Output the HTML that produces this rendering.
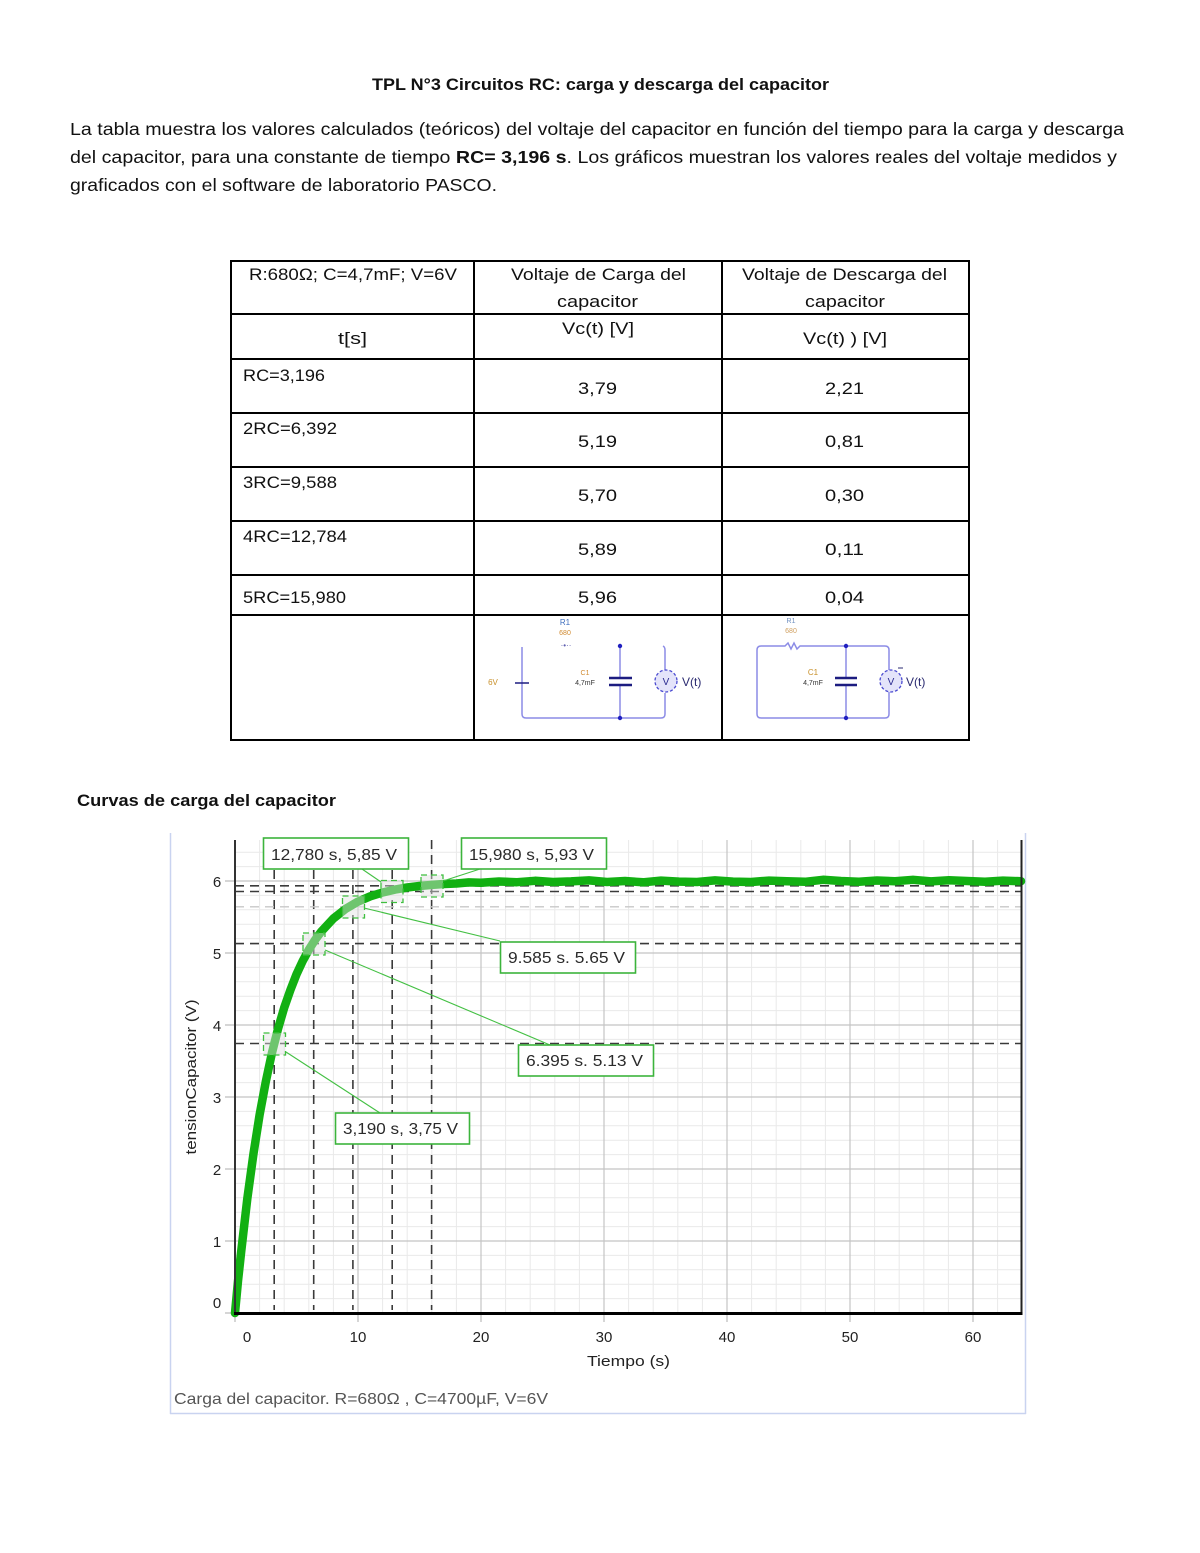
<!DOCTYPE html>
<html>
<head>
<meta charset="utf-8">
<style>
html,body{margin:0;padding:0;background:#fff;}
svg{display:block;}
text{font-family:"Liberation Sans", "DejaVu Sans", sans-serif;}
</style>
</head>
<body>
<svg width="1200" height="1553" viewBox="0 0 1200 1553" xmlns="http://www.w3.org/2000/svg">
<rect x="0" y="0" width="1200" height="1553" fill="#fff"/>

<!-- Header text -->
<text x="372" y="90" font-size="17" font-weight="bold" fill="#111" textLength="457" lengthAdjust="spacingAndGlyphs">TPL N°3 Circuitos RC: carga y descarga del capacitor</text>
<text x="70" y="135" font-size="17.5" fill="#111" textLength="1054" lengthAdjust="spacingAndGlyphs">La tabla muestra los valores calculados (teóricos) del voltaje del capacitor en función del tiempo para la carga y descarga</text>
<text x="70" y="163" font-size="17.5" fill="#111" textLength="1047" lengthAdjust="spacingAndGlyphs">del capacitor, para una constante de tiempo <tspan font-weight="bold">RC= 3,196 s</tspan>. Los gráficos muestran los valores reales del voltaje  medidos y</text>
<text x="70" y="191" font-size="17.5" fill="#111" textLength="427" lengthAdjust="spacingAndGlyphs">graficados con el software de laboratorio PASCO.</text>

<!-- Table -->
<g stroke="#000" stroke-width="2" fill="none">
  <rect x="231" y="261" width="738" height="479"/>
  <line x1="474" y1="261" x2="474" y2="740"/>
  <line x1="722" y1="261" x2="722" y2="740"/>
  <line x1="231" y1="314" x2="969" y2="314"/>
  <line x1="231" y1="359" x2="969" y2="359"/>
  <line x1="231" y1="413" x2="969" y2="413"/>
  <line x1="231" y1="467" x2="969" y2="467"/>
  <line x1="231" y1="521" x2="969" y2="521"/>
  <line x1="231" y1="575" x2="969" y2="575"/>
  <line x1="231" y1="615" x2="969" y2="615"/>
</g>
<g font-size="17" fill="#111">
  <text x="249" y="280" textLength="208" lengthAdjust="spacingAndGlyphs">R:680Ω; C=4,7mF; V=6V</text>
  <text x="511" y="280" textLength="175" lengthAdjust="spacingAndGlyphs">Voltaje de Carga del</text>
  <text x="557" y="307" textLength="81" lengthAdjust="spacingAndGlyphs">capacitor</text>
  <text x="742" y="280" textLength="205" lengthAdjust="spacingAndGlyphs">Voltaje de Descarga del</text>
  <text x="805" y="307" textLength="80" lengthAdjust="spacingAndGlyphs">capacitor</text>
  <text x="338" y="344" textLength="29" lengthAdjust="spacingAndGlyphs">t[s]</text>
  <text x="562" y="334" textLength="72" lengthAdjust="spacingAndGlyphs">Vc(t) [V]</text>
  <text x="803" y="344" textLength="84" lengthAdjust="spacingAndGlyphs">Vc(t) ) [V]</text>

  <text x="243" y="381" textLength="82" lengthAdjust="spacingAndGlyphs">RC=3,196</text>
  <text x="578" y="394" textLength="39" lengthAdjust="spacingAndGlyphs">3,79</text>
  <text x="825" y="394" textLength="39" lengthAdjust="spacingAndGlyphs">2,21</text>

  <text x="243" y="434" textLength="94" lengthAdjust="spacingAndGlyphs">2RC=6,392</text>
  <text x="578" y="447" textLength="39" lengthAdjust="spacingAndGlyphs">5,19</text>
  <text x="825" y="447" textLength="39" lengthAdjust="spacingAndGlyphs">0,81</text>

  <text x="243" y="488" textLength="94" lengthAdjust="spacingAndGlyphs">3RC=9,588</text>
  <text x="578" y="501" textLength="39" lengthAdjust="spacingAndGlyphs">5,70</text>
  <text x="825" y="501" textLength="39" lengthAdjust="spacingAndGlyphs">0,30</text>

  <text x="243" y="542" textLength="104" lengthAdjust="spacingAndGlyphs">4RC=12,784</text>
  <text x="578" y="555" textLength="39" lengthAdjust="spacingAndGlyphs">5,89</text>
  <text x="825" y="555" textLength="39" lengthAdjust="spacingAndGlyphs">0,11</text>

  <text x="243" y="603" textLength="103" lengthAdjust="spacingAndGlyphs">5RC=15,980</text>
  <text x="578" y="603" textLength="39" lengthAdjust="spacingAndGlyphs">5,96</text>
  <text x="825" y="603" textLength="39" lengthAdjust="spacingAndGlyphs">0,04</text>
</g>

<!-- Circuit 1 (charge) -->
<g stroke="#8c8ce6" stroke-width="1.5" fill="none">
  <path d="M522,647 L522,714 Q522,718 526,718 L661,718 Q665,718 665,714 L665,693"/>
  <path d="M665,670 L665,650 Q665,647 663,646"/>
  <line x1="620" y1="646" x2="620" y2="678"/>
  <line x1="620" y1="685" x2="620" y2="718"/>
</g>
<line x1="515" y1="683" x2="529" y2="683" stroke="#1c1c80" stroke-width="1.5"/>
<line x1="609" y1="678" x2="632" y2="678" stroke="#1c1c80" stroke-width="2.5"/>
<line x1="609" y1="685" x2="632" y2="685" stroke="#1c1c80" stroke-width="2.5"/>
<circle cx="620" cy="646" r="2.2" fill="#2020c0"/>
<circle cx="620" cy="718" r="2.2" fill="#2020c0"/>
<circle cx="666" cy="681" r="11" fill="#e4e4fa" stroke="#4a4ad0" stroke-width="1.3" stroke-dasharray="3,2"/>
<text x="666" y="685" font-size="10" fill="#2a2a90" text-anchor="middle">V</text>
<text x="682" y="686" font-size="12" fill="#2a2a70">V(t)</text>
<text x="493" y="685" font-size="8" fill="#c8902a" text-anchor="middle">6V</text>
<text x="565" y="625" font-size="8" fill="#4070c0" text-anchor="middle">R1</text>
<text x="565" y="635" font-size="7" fill="#d08a30" text-anchor="middle">680</text>
<text x="566" y="648" font-size="8" fill="#6060b0" text-anchor="middle">·•··</text>
<text x="585" y="675" font-size="7" fill="#d08a30" text-anchor="middle">C1</text>
<text x="585" y="685" font-size="7" fill="#333" text-anchor="middle">4,7mF</text>

<!-- Circuit 2 (discharge) -->
<g stroke="#8c8ce6" stroke-width="1.5" fill="none">
  <path d="M761,646 L785,646 L788,643 L791,649 L794,643 L797,649 L800,646 L885,646 Q889,646 889,650 L889,670"/>
  <path d="M889,692 L889,714 Q889,718 885,718 L761,718 Q757,718 757,714 L757,650 Q757,646 761,646"/>
  <line x1="846" y1="646" x2="846" y2="678"/>
  <line x1="846" y1="685" x2="846" y2="718"/>
</g>
<line x1="835" y1="678" x2="857" y2="678" stroke="#1c1c80" stroke-width="2.5"/>
<line x1="835" y1="685" x2="857" y2="685" stroke="#1c1c80" stroke-width="2.5"/>
<circle cx="846" cy="646" r="2.2" fill="#2020c0"/>
<circle cx="846" cy="718" r="2.2" fill="#2020c0"/>
<circle cx="891" cy="681" r="11" fill="#e4e4fa" stroke="#4a4ad0" stroke-width="1.3" stroke-dasharray="3,2"/>
<text x="891" y="685" font-size="10" fill="#2a2a90" text-anchor="middle">V</text>
<text x="906" y="686" font-size="12" fill="#2a2a70">V(t)</text>
<line x1="898" y1="668" x2="903" y2="668" stroke="#2a2a70" stroke-width="1"/>
<text x="791" y="623" font-size="7" fill="#7090c0" text-anchor="middle">R1</text>
<text x="791" y="633" font-size="7" fill="#d0a060" text-anchor="middle">680</text>
<text x="813" y="675" font-size="8" fill="#c8902a" text-anchor="middle">C1</text>
<text x="813" y="685" font-size="7" fill="#333" text-anchor="middle">4,7mF</text>

<!-- Section title -->
<text x="77" y="806" font-size="17" font-weight="bold" fill="#111" textLength="259" lengthAdjust="spacingAndGlyphs">Curvas de carga del capacitor</text>

<!-- Chart frame -->
<g stroke="#c9d3f0" stroke-width="1.5" fill="none">
  <line x1="170.5" y1="833" x2="170.5" y2="1414"/>
  <line x1="1025.5" y1="833" x2="1025.5" y2="1414"/>
  <line x1="170" y1="1413.5" x2="1026" y2="1413.5"/>
</g>

<!-- Minor grid -->
<g stroke="#e9e9e9" stroke-width="1">
  <line x1="259.6" y1="840" x2="259.6" y2="1313"/><line x1="284.2" y1="840" x2="284.2" y2="1313"/>
  <line x1="308.8" y1="840" x2="308.8" y2="1313"/><line x1="333.4" y1="840" x2="333.4" y2="1313"/>
  <line x1="382.6" y1="840" x2="382.6" y2="1313"/><line x1="407.2" y1="840" x2="407.2" y2="1313"/>
  <line x1="431.8" y1="840" x2="431.8" y2="1313"/><line x1="456.4" y1="840" x2="456.4" y2="1313"/>
  <line x1="505.6" y1="840" x2="505.6" y2="1313"/><line x1="530.2" y1="840" x2="530.2" y2="1313"/>
  <line x1="554.8" y1="840" x2="554.8" y2="1313"/><line x1="579.4" y1="840" x2="579.4" y2="1313"/>
  <line x1="628.6" y1="840" x2="628.6" y2="1313"/><line x1="653.2" y1="840" x2="653.2" y2="1313"/>
  <line x1="677.8" y1="840" x2="677.8" y2="1313"/><line x1="702.4" y1="840" x2="702.4" y2="1313"/>
  <line x1="751.6" y1="840" x2="751.6" y2="1313"/><line x1="776.2" y1="840" x2="776.2" y2="1313"/>
  <line x1="800.8" y1="840" x2="800.8" y2="1313"/><line x1="825.4" y1="840" x2="825.4" y2="1313"/>
  <line x1="874.6" y1="840" x2="874.6" y2="1313"/><line x1="899.2" y1="840" x2="899.2" y2="1313"/>
  <line x1="923.8" y1="840" x2="923.8" y2="1313"/><line x1="948.4" y1="840" x2="948.4" y2="1313"/>
  <line x1="997.6" y1="840" x2="997.6" y2="1313"/>
  <!-- horizontal minor every 0.2V -->
  <line x1="235" y1="1298.6" x2="1021" y2="1298.6"/><line x1="235" y1="1284.2" x2="1021" y2="1284.2"/>
  <line x1="235" y1="1269.8" x2="1021" y2="1269.8"/><line x1="235" y1="1255.4" x2="1021" y2="1255.4"/>
  <line x1="235" y1="1226.6" x2="1021" y2="1226.6"/><line x1="235" y1="1212.2" x2="1021" y2="1212.2"/>
  <line x1="235" y1="1197.8" x2="1021" y2="1197.8"/><line x1="235" y1="1183.4" x2="1021" y2="1183.4"/>
  <line x1="235" y1="1154.6" x2="1021" y2="1154.6"/><line x1="235" y1="1140.2" x2="1021" y2="1140.2"/>
  <line x1="235" y1="1125.8" x2="1021" y2="1125.8"/><line x1="235" y1="1111.4" x2="1021" y2="1111.4"/>
  <line x1="235" y1="1082.6" x2="1021" y2="1082.6"/><line x1="235" y1="1068.2" x2="1021" y2="1068.2"/>
  <line x1="235" y1="1053.8" x2="1021" y2="1053.8"/><line x1="235" y1="1039.4" x2="1021" y2="1039.4"/>
  <line x1="235" y1="1010.6" x2="1021" y2="1010.6"/><line x1="235" y1="996.2" x2="1021" y2="996.2"/>
  <line x1="235" y1="981.8" x2="1021" y2="981.8"/><line x1="235" y1="967.4" x2="1021" y2="967.4"/>
  <line x1="235" y1="938.6" x2="1021" y2="938.6"/><line x1="235" y1="924.2" x2="1021" y2="924.2"/>
  <line x1="235" y1="909.8" x2="1021" y2="909.8"/><line x1="235" y1="895.4" x2="1021" y2="895.4"/>
  <line x1="235" y1="866.6" x2="1021" y2="866.6"/><line x1="235" y1="852.2" x2="1021" y2="852.2"/>
</g>
<!-- Major grid -->
<g stroke="#c4c4c4" stroke-width="1.2">
  <line x1="358" y1="840" x2="358" y2="1313"/><line x1="481" y1="840" x2="481" y2="1313"/>
  <line x1="604" y1="840" x2="604" y2="1313"/><line x1="727" y1="840" x2="727" y2="1313"/>
  <line x1="850" y1="840" x2="850" y2="1313"/><line x1="973" y1="840" x2="973" y2="1313"/>
  <line x1="235" y1="1241" x2="1021" y2="1241"/><line x1="235" y1="1169" x2="1021" y2="1169"/>
  <line x1="235" y1="1097" x2="1021" y2="1097"/><line x1="235" y1="1025" x2="1021" y2="1025"/>
  <line x1="235" y1="953" x2="1021" y2="953"/><line x1="235" y1="881" x2="1021" y2="881"/>
</g>
<!-- ticks -->
<g stroke="#bbb" stroke-width="1.2">
  <line x1="235" y1="1314" x2="235" y2="1322"/><line x1="358" y1="1314" x2="358" y2="1322"/>
  <line x1="481" y1="1314" x2="481" y2="1322"/><line x1="604" y1="1314" x2="604" y2="1322"/>
  <line x1="727" y1="1314" x2="727" y2="1322"/><line x1="850" y1="1314" x2="850" y2="1322"/>
  <line x1="973" y1="1314" x2="973" y2="1322"/>
  <line x1="225" y1="1313" x2="235" y2="1313"/><line x1="225" y1="1241" x2="235" y2="1241"/>
  <line x1="225" y1="1169" x2="235" y2="1169"/><line x1="225" y1="1097" x2="235" y2="1097"/>
  <line x1="225" y1="1025" x2="235" y2="1025"/><line x1="225" y1="953" x2="235" y2="953"/>
  <line x1="225" y1="881" x2="235" y2="881"/>
</g>

<!-- Dashed reference lines -->
<g stroke="#3a3a3a" stroke-width="1.6" stroke-dasharray="9,6" fill="none">
  <line x1="274.2" y1="840" x2="274.2" y2="1310"/>
  <line x1="313.7" y1="840" x2="313.7" y2="1310"/>
  <line x1="352.9" y1="840" x2="352.9" y2="1310"/>
  <line x1="392.2" y1="840" x2="392.2" y2="1310"/>
  <line x1="431.6" y1="840" x2="431.6" y2="1310"/>
  <line x1="235" y1="1043.5" x2="1021" y2="1043.5"/>
  <line x1="235" y1="943.6" x2="1021" y2="943.6"/>
  <line x1="235" y1="891.5" x2="1021" y2="891.5"/>
  <line x1="235" y1="885.8" x2="1021" y2="885.8"/>
</g>
<line x1="235" y1="906.8" x2="1021" y2="906.8" stroke="#c8c8c8" stroke-width="1.4" stroke-dasharray="9,6"/>

<!-- Curve -->
<path d="M235,1313 L238,1281 L241.2,1251.5 L247.3,1198.7 L253.5,1153.6 L259.6,1114.8 L265.8,1081.6 L271.9,1053.1 L278.1,1028.6 L284.2,1007.7 L290.4,990 L296.5,974.3 L302.7,961 L308.8,949.8 L315,940 L321.1,931.8 L333.4,918.5 L345.7,908.8 L358,901.6 L370.3,896.3 L382.6,892.5 L395,889.6 L407.2,887.5 L419.5,886 L431.8,884.9 L444,884 L456.4,883.5 L468.7,882.4 L481,882.8 L499,881.5 L517,882.2 L535,880.8 L553,882 L571,881.4 L589,880.4 L607,882 L625,881 L643,882.3 L661,880.6 L679,881.6 L697,882 L715,880.4 L733,881.6 L751,882 L769,880.6 L787,881.2 L805,881.8 L823,879.8 L841,881 L859,881.8 L877,880.5 L895,881.2 L913,879.8 L931,881.4 L949,880.2 L967,881 L985,881.8 L1003,880.6 L1021,881.2"
 fill="none" stroke="#12b012" stroke-width="8.5" stroke-linejoin="round" stroke-linecap="round"/>

<!-- Axes -->
<line x1="235" y1="840" x2="235" y2="1314" stroke="#333" stroke-width="2"/>
<line x1="1021.5" y1="840" x2="1021.5" y2="1314" stroke="#222" stroke-width="2"/>
<line x1="234" y1="1313.5" x2="1022.5" y2="1313.5" stroke="#000" stroke-width="3"/>

<!-- Markers -->
<g fill="rgba(225,225,225,0.45)" stroke="#3fbf3f" stroke-width="1.3" stroke-dasharray="6,4">
  <rect x="263.5" y="1033" width="22" height="22"/>
  <rect x="303" y="933" width="22" height="22"/>
  <rect x="342.5" y="896" width="22" height="22"/>
  <rect x="381" y="880.5" width="22" height="22"/>
  <rect x="421" y="875" width="22" height="22"/>
</g>

<!-- Connector lines -->
<g stroke="#44c044" stroke-width="1.1" fill="none">
  <line x1="286" y1="1052" x2="380" y2="1113"/>
  <line x1="325" y1="950" x2="550" y2="1045"/>
  <line x1="364" y1="908" x2="500" y2="941"/>
  <line x1="362" y1="869" x2="381" y2="882"/>
  <line x1="480" y1="869" x2="443" y2="881"/>
</g>

<!-- Annotation boxes -->
<g fill="#fff" stroke="#3cb43c" stroke-width="1.6">
  <rect x="263.5" y="838" width="145" height="31"/>
  <rect x="461.5" y="838" width="145" height="31"/>
  <rect x="500.5" y="942" width="135" height="31"/>
  <rect x="518.5" y="1045" width="135" height="31"/>
  <rect x="335.5" y="1113" width="134" height="31"/>
</g>
<g font-size="16" fill="#2a2a2a">
  <text x="271" y="860" textLength="126" lengthAdjust="spacingAndGlyphs">12,780 s, 5,85 V</text>
  <text x="469" y="860" textLength="125" lengthAdjust="spacingAndGlyphs">15,980 s, 5,93 V</text>
  <text x="508" y="963" textLength="117" lengthAdjust="spacingAndGlyphs">9.585 s. 5.65 V</text>
  <text x="526" y="1066" textLength="117" lengthAdjust="spacingAndGlyphs">6.395 s. 5.13 V</text>
  <text x="343" y="1134" textLength="115" lengthAdjust="spacingAndGlyphs">3,190 s, 3,75 V</text>
</g>

<!-- Axis labels -->
<g font-size="15" fill="#222" text-anchor="middle">
  <text x="217" y="887">6</text>
  <text x="217" y="959">5</text>
  <text x="217" y="1031">4</text>
  <text x="217" y="1103">3</text>
  <text x="217" y="1175">2</text>
  <text x="217" y="1247">1</text>
  <text x="217" y="1308">0</text>
  <text x="247" y="1342">0</text>
  <text x="358" y="1342">10</text>
  <text x="481" y="1342">20</text>
  <text x="604" y="1342">30</text>
  <text x="727" y="1342">40</text>
  <text x="850" y="1342">50</text>
  <text x="973" y="1342">60</text>
</g>
<text x="587" y="1366" font-size="15" fill="#222" textLength="83" lengthAdjust="spacingAndGlyphs">Tiempo (s)</text>
<text transform="translate(196,1077) rotate(-90)" x="0" y="0" font-size="15" fill="#222" text-anchor="middle" textLength="155" lengthAdjust="spacingAndGlyphs">tensionCapacitor (V)</text>
<text x="174" y="1404" font-size="16" fill="#555" textLength="374" lengthAdjust="spacingAndGlyphs">Carga del capacitor. R=680Ω , C=4700µF, V=6V</text>
</svg>
</body>
</html>
